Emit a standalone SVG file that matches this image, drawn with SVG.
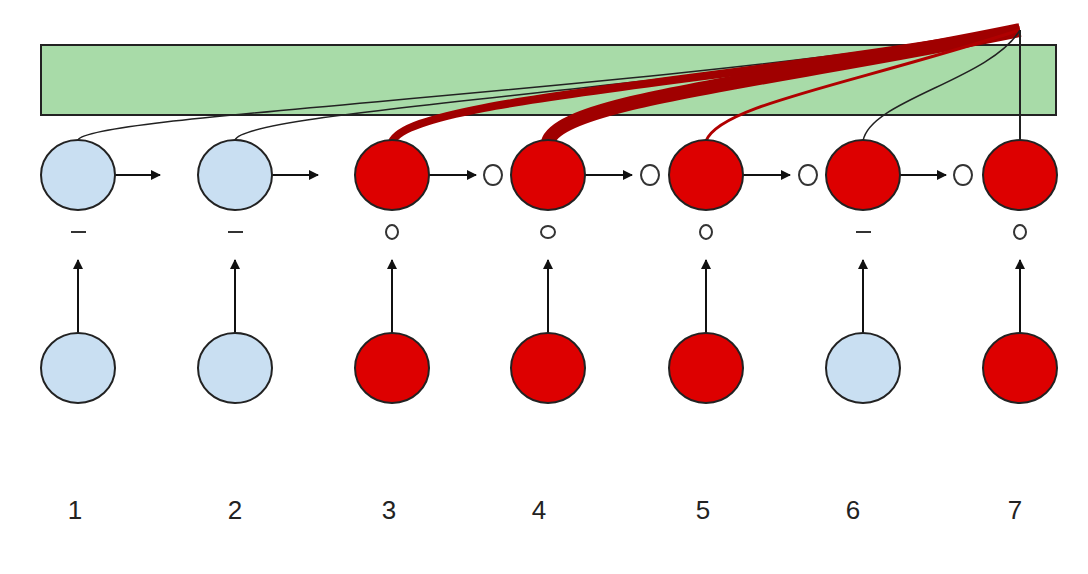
<svg xmlns="http://www.w3.org/2000/svg" width="1088" height="574" viewBox="0 0 1088 574">
<style>
.blue{fill:#c9dff2;stroke:#222;stroke-width:2}
.red{fill:#dd0000;stroke:#222;stroke-width:2}
.small{fill:#fff;stroke:#333;stroke-width:2}
.lbl{fill:none;stroke:#333;stroke-width:2}
.num{font-family:"Liberation Sans",Arial,sans-serif;font-size:26px;fill:#222;text-anchor:middle}
.ar{stroke:#111;stroke-width:2;fill:none;marker-end:url(#ah)}
</style>
<defs><marker id="ah" markerWidth="10" markerHeight="10" refX="9" refY="5" orient="auto" markerUnits="userSpaceOnUse"><path d="M0,0 L10,5 L0,10 z" fill="#111"/></marker></defs>
<rect id="box" x="41" y="45" width="1015" height="70" fill="#a8dba8" stroke="#222" stroke-width="2"/>
<g id="connectors">
<path d="M78,140 C90,115 600,95 1020,30" fill="none" stroke="#222" stroke-width="1.5"/>
<path d="M235,140 C245,112 650,92 1020,30" fill="none" stroke="#222" stroke-width="1.5"/>
<path d="M392,142 C410,100 700,85 1020,30" fill="none" stroke="#a00000" stroke-width="8"/>
<path d="M548,142 C560,100 780,80 1020,30" fill="none" stroke="#a00000" stroke-width="14"/>
<path d="M706,141 C720,105 850,85 1020,30" fill="none" stroke="#b00000" stroke-width="3"/>
<path d="M863,141 C870,100 990,80 1020,30" fill="none" stroke="#222" stroke-width="1.5"/>
<path d="M1020,140 L1020,30" fill="none" stroke="#222" stroke-width="2"/>
<path class="ar" d="M115,175 L160,175"/>
<path class="ar" d="M272,175 L318,175"/>
<path class="ar" d="M429,175 L476,175"/>
<path class="ar" d="M585,175 L632,175"/>
<path class="ar" d="M743,175 L790,175"/>
<path class="ar" d="M900,175 L946,175"/>
<path class="ar" d="M78,333 L78,260"/>
<path class="ar" d="M235,333 L235,260"/>
<path class="ar" d="M392,333 L392,260"/>
<path class="ar" d="M548,333 L548,260"/>
<path class="ar" d="M706,333 L706,260"/>
<path class="ar" d="M863,333 L863,260"/>
<path class="ar" d="M1020,333 L1020,260"/>
</g>
<g id="small">
<ellipse class="small" cx="493" cy="175" rx="9" ry="10"/>
<ellipse class="small" cx="650" cy="175" rx="9" ry="10"/>
<ellipse class="small" cx="808" cy="175" rx="9" ry="10"/>
<ellipse class="small" cx="963" cy="175" rx="9" ry="10"/>
</g>
<g id="labels">
<line class="lbl" x1="71" y1="232" x2="86" y2="232"/>
<line class="lbl" x1="228" y1="232" x2="243" y2="232"/>
<ellipse class="lbl" cx="392" cy="232" rx="6" ry="7"/>
<ellipse class="lbl" cx="548" cy="232" rx="7" ry="6"/>
<ellipse class="lbl" cx="706" cy="232" rx="6" ry="7"/>
<line class="lbl" x1="856" y1="232" x2="871" y2="232"/>
<ellipse class="lbl" cx="1020" cy="232" rx="6" ry="7"/>
</g>
<g id="n1t"><ellipse class="blue" cx="78" cy="175" rx="37" ry="35"/></g>
<g id="n2t"><ellipse class="blue" cx="235" cy="175" rx="37" ry="35"/></g>
<g id="n3t"><ellipse class="red" cx="392" cy="175" rx="37" ry="35"/></g>
<g id="n4t"><ellipse class="red" cx="548" cy="175" rx="37" ry="35"/></g>
<g id="n5t"><ellipse class="red" cx="706" cy="175" rx="37" ry="35"/></g>
<g id="n6t"><ellipse class="red" cx="863" cy="175" rx="37" ry="35"/></g>
<g id="n7t"><ellipse class="red" cx="1020" cy="175" rx="37" ry="35"/></g>
<g id="n1b"><ellipse class="blue" cx="78" cy="368" rx="37" ry="35"/></g>
<g id="n2b"><ellipse class="blue" cx="235" cy="368" rx="37" ry="35"/></g>
<g id="n3b"><ellipse class="red" cx="392" cy="368" rx="37" ry="35"/></g>
<g id="n4b"><ellipse class="red" cx="548" cy="368" rx="37" ry="35"/></g>
<g id="n5b"><ellipse class="red" cx="706" cy="368" rx="37" ry="35"/></g>
<g id="n6b"><ellipse class="blue" cx="863" cy="368" rx="37" ry="35"/></g>
<g id="n7b"><ellipse class="red" cx="1020" cy="368" rx="37" ry="35"/></g>
<g id="nums">
<text class="num" x="75" y="519">1</text>
<text class="num" x="235" y="519">2</text>
<text class="num" x="389" y="519">3</text>
<text class="num" x="539" y="519">4</text>
<text class="num" x="703" y="519">5</text>
<text class="num" x="853" y="519">6</text>
<text class="num" x="1015" y="519">7</text>
</g>
</svg>
